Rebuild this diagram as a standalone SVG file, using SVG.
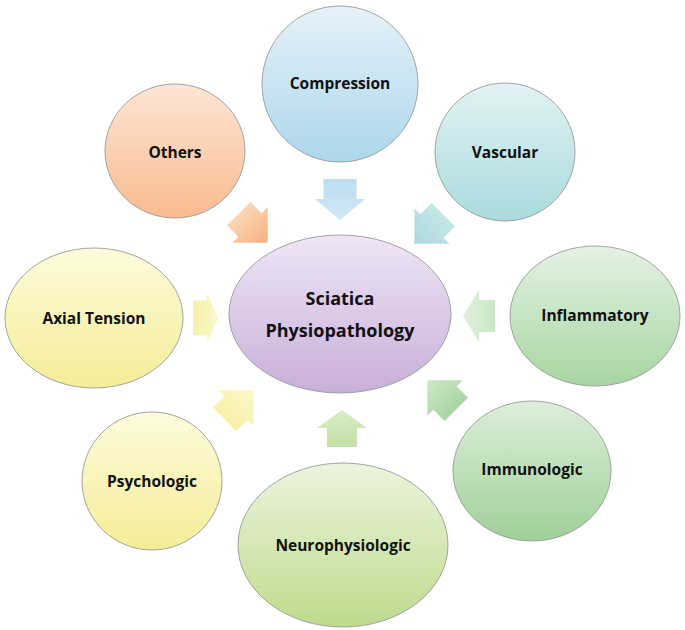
<svg xmlns="http://www.w3.org/2000/svg" width="685" height="630" viewBox="0 0 685 630">
<style>
.n{stroke:#9a9a9a;stroke-width:0.9}
.t{font-family:"Open Sans","Liberation Sans",sans-serif;font-weight:700;font-size:15.5px;fill:#111;text-anchor:middle;dominant-baseline:central}
.tc{font-size:18px}
.a{stroke:none}
</style>
<defs>
<linearGradient id="gBlue" x1="0" y1="0" x2="0" y2="1"><stop offset="0" stop-color="#e6f2f9"/><stop offset="1" stop-color="#acd6ec"/></linearGradient>
<linearGradient id="gTeal" x1="0" y1="0" x2="0" y2="1"><stop offset="0" stop-color="#e2f2f3"/><stop offset="1" stop-color="#a9dbdd"/></linearGradient>
<linearGradient id="gOrange" x1="0" y1="0" x2="0" y2="1"><stop offset="0" stop-color="#fde6d5"/><stop offset="1" stop-color="#f8bb8f"/></linearGradient>
<linearGradient id="gYellow" x1="0" y1="0" x2="0" y2="1"><stop offset="0" stop-color="#fdfbdc"/><stop offset="1" stop-color="#f4ed96"/></linearGradient>
<linearGradient id="gPurple" x1="0" y1="0" x2="0" y2="1"><stop offset="0" stop-color="#efe6f5"/><stop offset="1" stop-color="#c8afd9"/></linearGradient>
<linearGradient id="gGreen" x1="0" y1="0" x2="0" y2="1"><stop offset="0" stop-color="#e4f2e3"/><stop offset="1" stop-color="#a7d6a2"/></linearGradient>
<linearGradient id="gGreen2" x1="0" y1="0" x2="0" y2="1"><stop offset="0" stop-color="#ddefda"/><stop offset="1" stop-color="#9fd098"/></linearGradient>
<linearGradient id="gLime" x1="0" y1="0" x2="0" y2="1"><stop offset="0" stop-color="#ecf4de"/><stop offset="1" stop-color="#bedb8c"/></linearGradient>
<linearGradient id="aBlue" x1="0" y1="0" x2="1" y2="0"><stop offset="0" stop-color="#bcdcef"/><stop offset="1" stop-color="#d3e9f5"/></linearGradient>
<linearGradient id="aTeal" x1="0" y1="0" x2="1" y2="0"><stop offset="0" stop-color="#c6e6e8"/><stop offset="1" stop-color="#acdadd"/></linearGradient>
<linearGradient id="aOrange" x1="0" y1="0" x2="1" y2="0"><stop offset="0" stop-color="#fbd6b9"/><stop offset="1" stop-color="#f6b080"/></linearGradient>
<linearGradient id="aYellow" x1="0" y1="0" x2="1" y2="0"><stop offset="0" stop-color="#f7f1a8"/><stop offset="1" stop-color="#fbf7cc"/></linearGradient>
<linearGradient id="aGreen" x1="0" y1="0" x2="1" y2="0"><stop offset="0" stop-color="#c8e6c4"/><stop offset="1" stop-color="#e2f1df"/></linearGradient>
<linearGradient id="aGreen2" x1="0" y1="0" x2="1" y2="0"><stop offset="0" stop-color="#a9d6a2"/><stop offset="1" stop-color="#cde8c8"/></linearGradient>
<linearGradient id="aLime" x1="0" y1="0" x2="1" y2="0"><stop offset="0" stop-color="#c4e0a8"/><stop offset="1" stop-color="#d8ecc5"/></linearGradient>
</defs>

<g id="connectors">
  <path class="a" fill="url(#aBlue)" transform="translate(340,199) rotate(90)" d="M-20,-16.5 L0,-16.5 L0,-25 L21,0 L0,25 L0,16.5 L-20,16.5 Z"/>
  <path class="a" fill="url(#aOrange)" transform="translate(250,225) rotate(45)" d="M-16,-16.5 L0,-16.5 L0,-25 L25,0 L0,25 L0,16.5 L-16,16.5 Z"/>
  <path class="a" fill="url(#aTeal)" transform="translate(432,226) rotate(135)" d="M-16,-16.5 L0,-16.5 L0,-25 L25,0 L0,25 L0,16.5 L-16,16.5 Z"/>
  <path class="a" fill="url(#aYellow)" transform="translate(207,318)" d="M-14,-17.5 L0,-17.5 L0,-25 L11,0 L0,25 L0,17.5 L-14,17.5 Z"/>
  <path class="a" fill="url(#aGreen)" transform="translate(479,316) rotate(180)" d="M-16,-16 L0,-16 L0,-26 L16,0 L0,26 L0,16 L-16,16 Z"/>
  <path class="a" fill="url(#aGreen2)" transform="translate(445,398) rotate(225)" d="M-16,-16.5 L0,-16.5 L0,-25 L25,0 L0,25 L0,16.5 L-16,16.5 Z"/>
  <path class="a" fill="url(#aLime)" transform="translate(342,428) rotate(-90)" d="M-19,-15 L0,-15 L0,-25 L18,0 L0,25 L0,15 L-19,15 Z"/>
  <path class="a" fill="url(#aYellow)" transform="translate(236,408) rotate(-45)" d="M-16,-16.5 L0,-16.5 L0,-25 L25,0 L0,25 L0,16.5 L-16,16.5 Z"/>
</g>

<g id="node-compression">
  <ellipse class="n" cx="340" cy="84" rx="78" ry="78" fill="url(#gBlue)"/>
  <text class="t" x="340" y="83">Compression</text>
</g>
<g id="node-others">
  <ellipse class="n" cx="175" cy="151" rx="70" ry="67" fill="url(#gOrange)"/>
  <text class="t" x="175" y="152">Others</text>
</g>
<g id="node-vascular">
  <ellipse class="n" cx="505" cy="152" rx="70" ry="69" fill="url(#gTeal)"/>
  <text class="t" x="505" y="152">Vascular</text>
</g>
<g id="node-axial">
  <ellipse class="n" cx="94" cy="318" rx="89" ry="70" fill="url(#gYellow)"/>
  <text class="t" x="94" y="318">Axial Tension</text>
</g>
<g id="node-center">
  <ellipse class="n" cx="340" cy="314" rx="111" ry="79" fill="url(#gPurple)"/>
  <text class="t tc" x="340" y="298">Sciatica</text>
  <text class="t tc" x="340" y="330">Physiopathology</text>
</g>
<g id="node-inflammatory">
  <ellipse class="n" cx="595" cy="316" rx="85" ry="70" fill="url(#gGreen)"/>
  <text class="t" x="595" y="315">Inflammatory</text>
</g>
<g id="node-immunologic">
  <ellipse class="n" cx="532" cy="471" rx="79" ry="70" fill="url(#gGreen2)"/>
  <text class="t" x="532" y="469">Immunologic</text>
</g>
<g id="node-psychologic">
  <ellipse class="n" cx="152" cy="481" rx="70" ry="69" fill="url(#gYellow)"/>
  <text class="t" x="152" y="481">Psychologic</text>
</g>
<g id="node-neurophysiologic">
  <ellipse class="n" cx="343" cy="545" rx="105" ry="82" fill="url(#gLime)"/>
  <text class="t" x="343" y="545">Neurophysiologic</text>
</g>
</svg>
